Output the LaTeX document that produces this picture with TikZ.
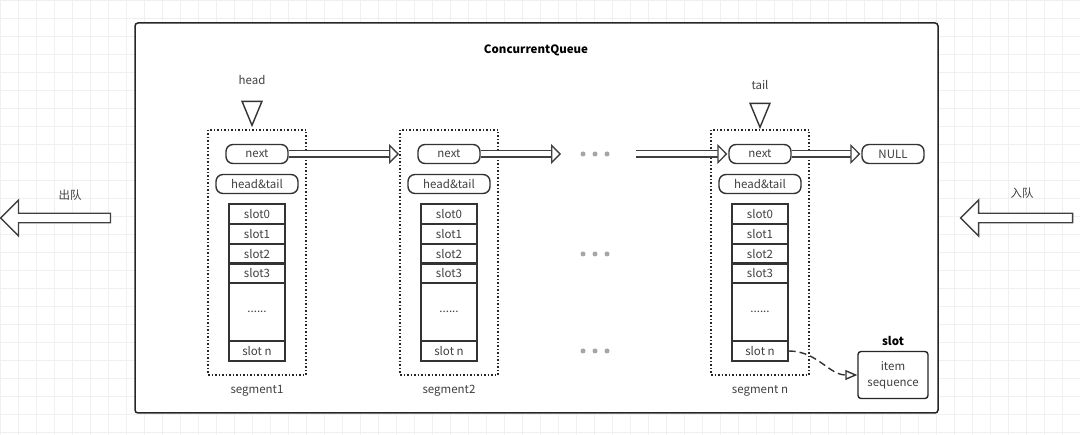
\documentclass[tikz,border=0pt]{standalone}
\usepackage{fontspec}
\setmainfont{Noto Sans CJK SC}
\usetikzlibrary{arrows.meta,shapes.arrows,shapes.geometric}
\tikzset{
  pill/.style={draw=black!80, line width=1.4pt, rounded corners=7pt, minimum height=19pt, inner sep=1pt, font=\fontsize{11.5}{12}\selectfont, text=black!75},
  slot/.style={draw=black!80, line width=1.4pt, minimum width=56pt, minimum height=20pt, inner sep=0pt, font=\fontsize{11.5}{12}\selectfont, text=black!75},
  seg/.style={draw=black!85, line width=1.5pt, dotted},
  lbl/.style={font=\fontsize{11.5}{12}\selectfont, text=black!75},
  dots/.style={fill=black!35, circle, inner sep=0pt, minimum size=5pt},
  link/.style={draw=black!75, double=white, double distance=5pt, line width=1.3pt, -{Triangle[open, fill=white, length=10pt, width=20pt, line width=1.3pt]}, shorten >=1pt},
  big/.style={single arrow, draw=black!75, line width=1.3pt, fill=white, minimum height=110pt, minimum width=36pt, single arrow head extend=10pt, inner sep=3pt},
}
\newcommand{\Segment}[3]{%
  \draw[seg] (#1-49,130) rectangle (#1+49,375);
  \node[pill, minimum width=62pt] (next#2) at (#1,154) {next};
  \node[pill, minimum width=82pt] (ht#2) at (#1,184) {head\&tail};
  \node[slot] (s0#2) at (#1,214) {slot0};
  \node[slot] (s1#2) at (#1,234) {slot1};
  \node[slot] (s2#2) at (#1,254) {slot2};
  \node[slot] (s3#2) at (#1,273) {slot3};
  \node[slot, minimum height=58pt] (sd#2) at (#1,312) {......};
  \node[slot] (sn#2) at (#1,351) {slot n};
  \node[lbl] (lab#2) at (#1,391) {#3};
}
\newcommand{\Dots}[3]{%
  \node[dots] (#1a) at (#2-12,#3) {};
  \node[dots] (#1b) at (#2,#3) {};
  \node[dots] (#1c) at (#2+12,#3) {};
}
\begin{document}
\begin{tikzpicture}[x=1pt,y=-1pt]
\useasboundingbox (0,0) rectangle (1080,435);
\draw[black!6, step=18pt] (0,0) grid (1080,435);
\draw[black!85, line width=1.5pt, rounded corners=3pt, fill=white] (135,23) rectangle (938,413);
\node[font=\fontsize{11.5}{12}\selectfont\bfseries] (title) at (536,50) {ConcurrentQueue};

\Segment{257}{a}{segment1}
\Segment{449}{b}{segment2}
\Segment{760}{c}{segment n}

% head / tail pointers
\node[lbl] (headl) at (252,80) {head};
\node[draw=black!80, line width=1.4pt, isosceles triangle, shape border rotate=-90, isosceles triangle apex angle=45, minimum height=24pt, inner sep=0pt] (headp) at (252,108) {};
\node[lbl] (taill) at (760,85) {tail};
\node[draw=black!80, line width=1.4pt, isosceles triangle, shape border rotate=-90, isosceles triangle apex angle=45, minimum height=24pt, inner sep=0pt] (tailp) at (760,110) {};

\node[pill, minimum width=62pt] (null) at (893,154) {NULL};
\Dots{dt}{595}{154}
\Dots{dm}{595}{254}
\Dots{db}{595}{351}
\coordinate (gapin) at (636,154);

\draw[link] (nexta.east) -- (400,154);
\draw[link] (nextb.east) -- (562,154);
\draw[link] (gapin) -- (nextc.west);
\draw[link] (nextc.east) -- (null.west);

% slot detail
\node[draw=black!85, line width=1.4pt, rounded corners=3pt, minimum width=70pt, minimum height=47pt, align=center, font=\fontsize{11.5}{16}\selectfont, text=black!75] (detail) at (893,375) {item\\sequence};
\node[font=\fontsize{11.5}{12}\selectfont\bfseries] (dtitle) at (893,341) {slot};
\draw[black!80, line width=1.4pt, dash pattern=on 7pt off 4pt, -{Triangle[open, length=12pt, width=10pt]}] (snc.east) to[out=0, in=180] (detail.west);

% in / out
\node[big, shape border rotate=180] (out) at (58,218) {};
\node[lbl] (outl) at (70,195) {出队};
\node[big, minimum height=112pt, shape border rotate=180] (in) at (1019,218) {};
\node[lbl] (inl) at (1022,193) {入队};
\end{tikzpicture}
\end{document}
